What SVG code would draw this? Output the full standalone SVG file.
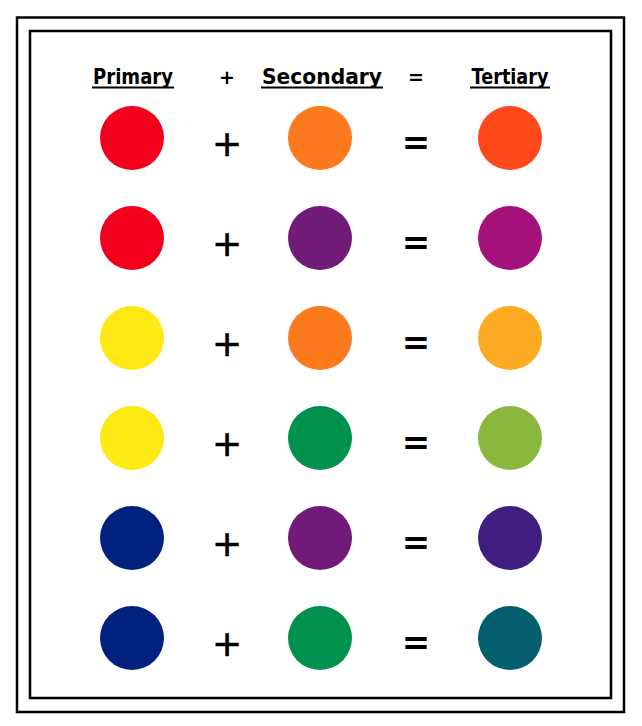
<svg xmlns="http://www.w3.org/2000/svg" width="642" height="726" viewBox="0 0 642 726">
<style>
.frame{fill:none;stroke:#000;stroke-width:2.5}
.hd{font-family:"DejaVu Sans",sans-serif;font-weight:bold;font-size:22px;fill:#000;text-anchor:middle}
.ul{stroke:#000;stroke-width:2}
.op{font-family:"DejaVu Sans",sans-serif;font-size:36px;fill:#000;text-anchor:middle;stroke:#000;stroke-width:0.6}
.eq{font-family:"DejaVu Sans",sans-serif;font-weight:bold;font-size:34px;fill:#000;text-anchor:middle}
.hop{font-family:"DejaVu Sans",sans-serif;font-weight:bold;font-size:19px;fill:#000;text-anchor:middle}
</style>
<rect width="642" height="726" fill="#fff"/>
<rect class="frame" x="17" y="17.5" width="607" height="694.5"/>
<rect class="frame" x="30" y="31" width="581" height="667"/>
<g id="header">
<text class="hd" x="133" y="84" textLength="80" lengthAdjust="spacingAndGlyphs">Primary</text>
<line class="ul" x1="92" y1="87.5" x2="174" y2="87.5"/>
<text class="hop" x="227" y="84">+</text>
<text class="hd" x="322" y="84" textLength="120" lengthAdjust="spacingAndGlyphs">Secondary</text>
<line class="ul" x1="261" y1="87.5" x2="383" y2="87.5"/>
<text class="hop" x="416" y="84">=</text>
<text class="hd" x="510" y="84" textLength="77" lengthAdjust="spacingAndGlyphs">Tertiary</text>
<line class="ul" x1="470" y1="87.5" x2="550" y2="87.5"/>
</g>
<g id="row1">
<circle cx="132" cy="138" r="32" fill="#F2001E"/>
<text class="op" x="227" y="156">+</text>
<circle cx="320" cy="138" r="32" fill="#FC791E"/>
<text class="eq" x="416" y="154">=</text>
<circle cx="510" cy="138" r="32" fill="#FC481A"/>
</g>
<g id="row2">
<circle cx="132" cy="238" r="32" fill="#F2001E"/>
<text class="op" x="227" y="256">+</text>
<circle cx="320" cy="238" r="32" fill="#721A77"/>
<text class="eq" x="416" y="254">=</text>
<circle cx="510" cy="238" r="32" fill="#A4117A"/>
</g>
<g id="row3">
<circle cx="132" cy="338" r="32" fill="#FFE914"/>
<text class="op" x="227" y="356">+</text>
<circle cx="320" cy="338" r="32" fill="#FC791E"/>
<text class="eq" x="416" y="354">=</text>
<circle cx="510" cy="338" r="32" fill="#FDAB22"/>
</g>
<g id="row4">
<circle cx="132" cy="438" r="32" fill="#FFE914"/>
<text class="op" x="227" y="456">+</text>
<circle cx="320" cy="438" r="32" fill="#00914C"/>
<text class="eq" x="416" y="454">=</text>
<circle cx="510" cy="438" r="32" fill="#8AB73E"/>
</g>
<g id="row5">
<circle cx="132" cy="538" r="32" fill="#00217E"/>
<text class="op" x="227" y="556">+</text>
<circle cx="320" cy="538" r="32" fill="#721A77"/>
<text class="eq" x="416" y="554">=</text>
<circle cx="510" cy="538" r="32" fill="#3F1E7F"/>
</g>
<g id="row6">
<circle cx="132" cy="638" r="32" fill="#00217E"/>
<text class="op" x="227" y="656">+</text>
<circle cx="320" cy="638" r="32" fill="#00914C"/>
<text class="eq" x="416" y="654">=</text>
<circle cx="510" cy="638" r="32" fill="#055E6E"/>
</g>
<g id="connectors"></g>
</svg>
